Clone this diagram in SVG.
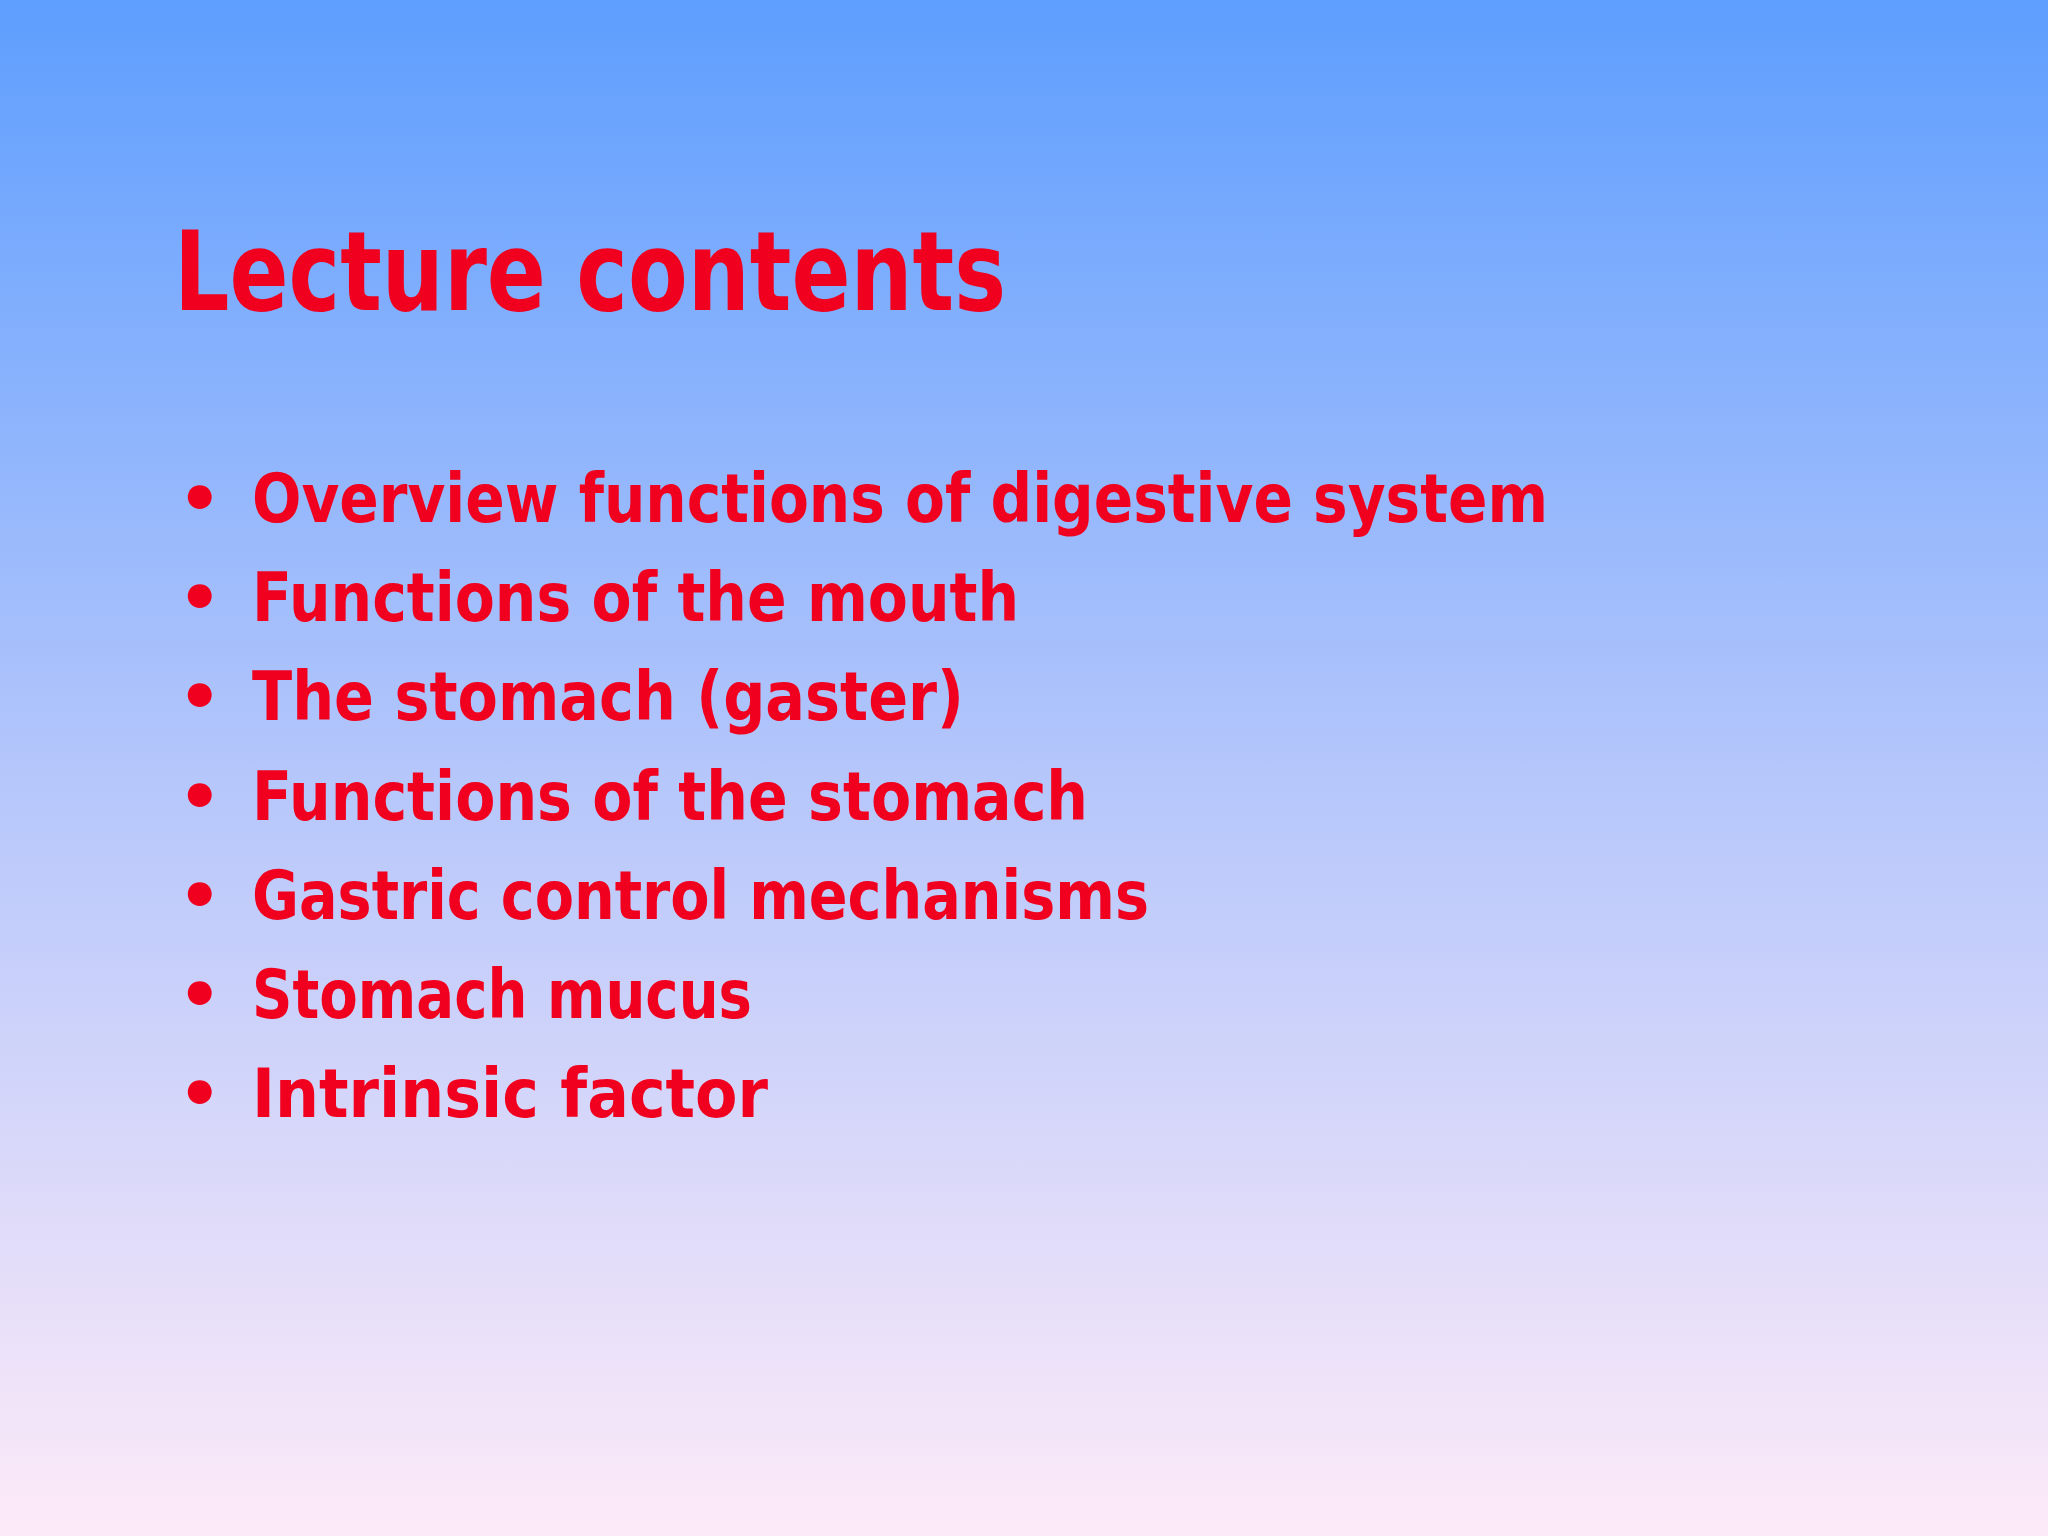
<svg xmlns="http://www.w3.org/2000/svg" width="2048" height="1536" viewBox="0 0 2048 1536">
<defs>
<linearGradient id="bg" x1="0" y1="0" x2="0" y2="1">
<stop offset="0" stop-color="#5e9efe"/>
<stop offset="0.5" stop-color="#b4c6fb"/>
<stop offset="1" stop-color="#fdeaf8"/>
</linearGradient>
<style>
.t{font-family:"DejaVu Sans","Liberation Sans",sans-serif;font-weight:bold;fill:#f0001e}
.b{font-size:68px}
</style>
</defs>
<rect width="2048" height="1536" fill="url(#bg)"/>
<text class="t" x="174" y="310" font-size="110" textLength="832" lengthAdjust="spacingAndGlyphs">Lecture contents</text>
<g id="bullets">
<g class="t b">
<text x="178" y="522">•</text><text x="252" y="522" textLength="1296" lengthAdjust="spacingAndGlyphs">Overview functions of digestive system</text>
<text x="178" y="621">•</text><text x="252" y="621" textLength="767" lengthAdjust="spacingAndGlyphs">Functions of the mouth</text>
<text x="178" y="720">•</text><text x="252" y="720" textLength="712" lengthAdjust="spacingAndGlyphs">The stomach (gaster)</text>
<text x="178" y="820">•</text><text x="252" y="820" textLength="836" lengthAdjust="spacingAndGlyphs">Functions of the stomach</text>
<text x="178" y="919">•</text><text x="252" y="919" textLength="897" lengthAdjust="spacingAndGlyphs">Gastric control mechanisms</text>
<text x="178" y="1018">•</text><text x="252" y="1018" textLength="500" lengthAdjust="spacingAndGlyphs">Stomach mucus</text>
<text x="178" y="1117">•</text><text x="252" y="1117" textLength="516" lengthAdjust="spacingAndGlyphs">Intrinsic factor</text>
</g>
</g>
</svg>
